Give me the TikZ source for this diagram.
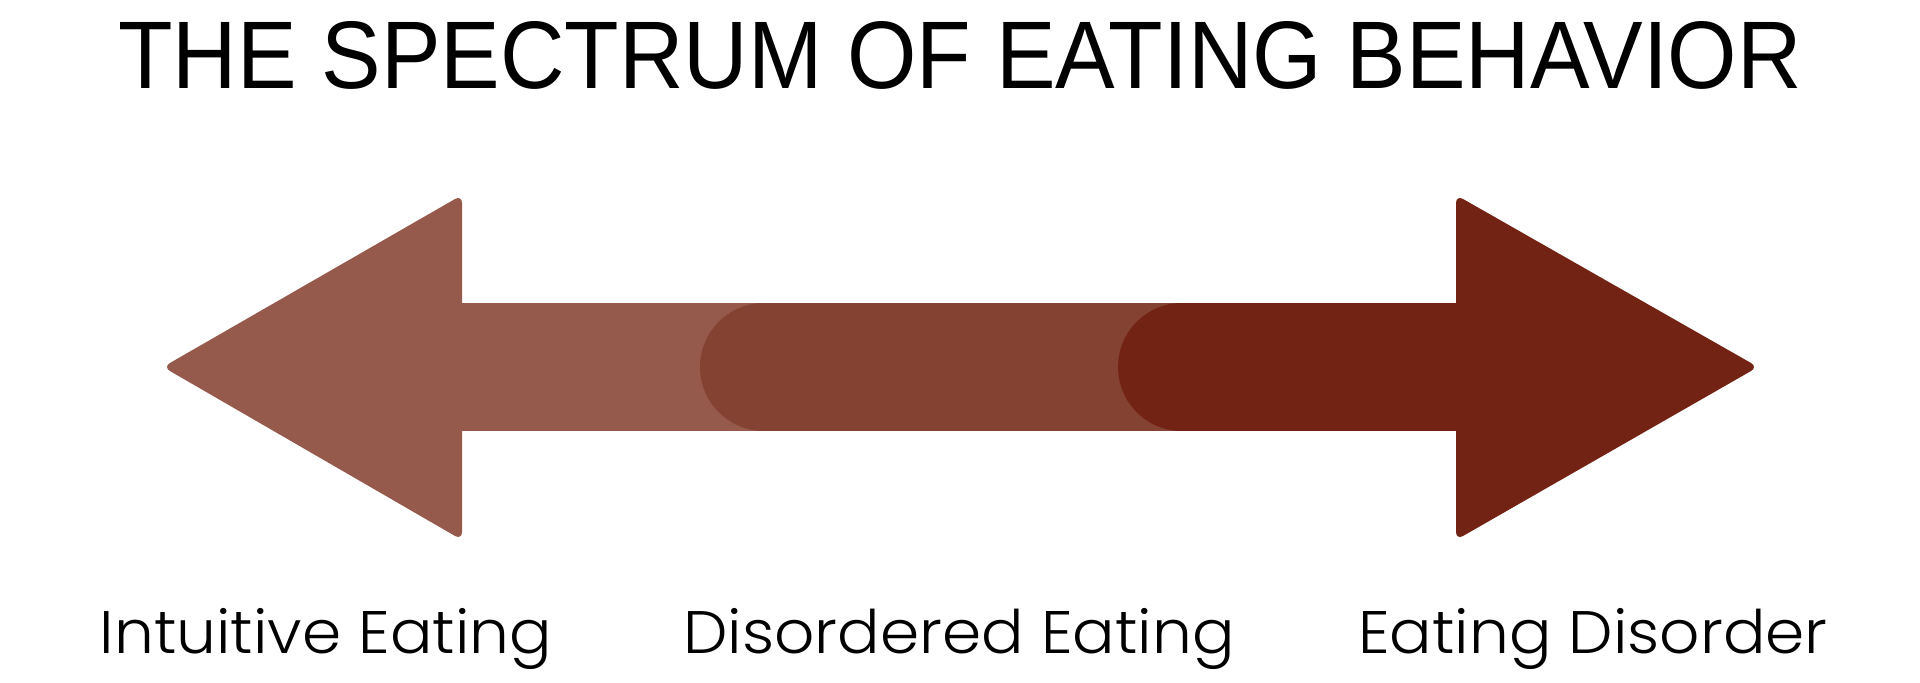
\documentclass[tikz,border=0pt]{standalone}
\usepackage{fontspec}
\setmainfont{Liberation Sans}
\newfontfamily\titlefont{Liberation Sans}[FakeStretch=0.93]
\newfontfamily\labelfont{Poppins Light}[FakeStretch=1.05]
\usetikzlibrary{positioning}
\definecolor{lightbrown}{HTML}{955A4C}
\definecolor{midbrown}{HTML}{844232}
\definecolor{darkbrown}{HTML}{722313}

\begin{document}
\begin{tikzpicture}[x=0.5pt, y=-0.5pt,
  title node/.style={font=\titlefont\fontsize{48}{48}\selectfont, anchor=base, inner sep=0pt},
  label node/.style={font=\labelfont\fontsize{30}{30}\selectfont, anchor=base, inner sep=0pt},
  head/.style={rounded corners=4}]

\useasboundingbox (0,0) rectangle (1920,683);

% left part
\fill[lightbrown, head] (462,303) -- (462,195) -- (163,367) -- (462,540) -- (462,431) -- cycle;
\fill[lightbrown] (460,303) rectangle (780,431);

% middle part
\fill[midbrown] (764,367) circle[radius=64];
\fill[midbrown] (764,303) rectangle (1200,431);

% right part
\fill[darkbrown] (1182,367) circle[radius=64];
\fill[darkbrown] (1182,303) rectangle (1458,431);
\fill[darkbrown, head] (1456,303) -- (1456,195) -- (1758,367) -- (1456,540) -- (1456,431) -- cycle;

\node[title node] (title) at (960,89) {THE SPECTRUM OF EATING BEHAVIOR};

\node[label node] (intuitive) at (326,653) {Intuitive Eating};
\node[label node] (disordered) at (959,653) {Disordered Eating};
\node[label node] (disorder) at (1593,653) {Eating Disorder};

\end{tikzpicture}
\end{document}
